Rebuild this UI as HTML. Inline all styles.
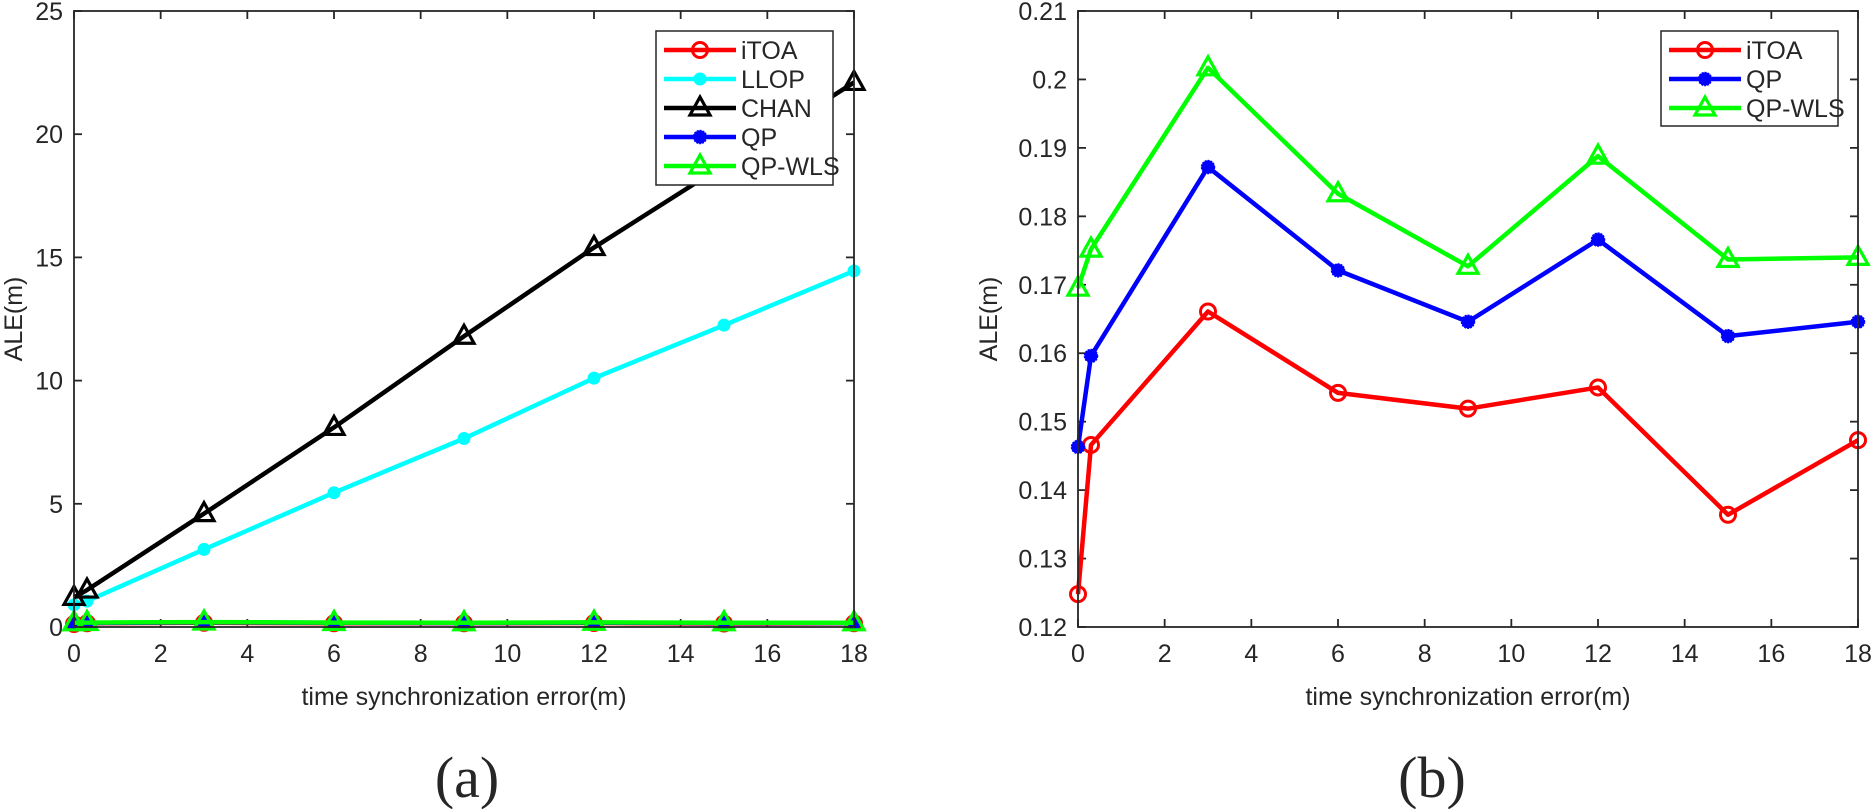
<!DOCTYPE html>
<html><head><meta charset="utf-8"><style>
html,body{margin:0;padding:0;background:#fff}
svg{display:block}
text{font-family:"Liberation Sans",Arial,sans-serif;fill:#262626}
</style></head><body>
<svg id="s" width="1871" height="809" xmlns="http://www.w3.org/2000/svg"></svg>
<script>
const S=document.getElementById('s');let h='';
function plot(L,R,T,B,ymin,ymax,yt,yfmt,series,legend,ylx){
  const X=v=>L+(v/18)*(R-L), Y=v=>B-(v-ymin)/(ymax-ymin)*(B-T);
  for(let x=0;x<=18;x+=2){const px=X(x);
    h+=`<line x1="${px}" y1="${B}" x2="${px}" y2="${B-8}" stroke="#262626" stroke-width="1.8"/><line x1="${px}" y1="${T}" x2="${px}" y2="${T+8}" stroke="#262626" stroke-width="1.8"/>`;
    h+=`<text x="${px}" y="${B+35}" font-size="25" text-anchor="middle">${x}</text>`;}
  yt.forEach(v=>{const py=Y(v);
    h+=`<line x1="${L}" y1="${py}" x2="${L+8}" y2="${py}" stroke="#262626" stroke-width="1.8"/><line x1="${R}" y1="${py}" x2="${R-8}" y2="${py}" stroke="#262626" stroke-width="1.8"/>`;
    h+=`<text x="${L-11}" y="${py+9}" font-size="25" text-anchor="end">${yfmt(v)}</text>`;});
  h+=`<text x="${(L+R)/2}" y="${B+78}" font-size="25" text-anchor="middle">time synchronization error(m)</text>`;
  h+=`<text transform="translate(${ylx},${(T+B)/2}) rotate(-90)" font-size="25" text-anchor="middle">ALE(m)</text>`;
  const xs=[0,0.3,3,6,9,12,15,18];
  series.forEach(s=>{
    h+=`<polyline fill="none" stroke="${s.c}" stroke-width="4.5" stroke-linejoin="round" points="${s.d.map((v,i)=>X(xs[i])+','+Y(v)).join(' ')}"/>`;
    s.d.forEach((v,i)=>{h+=mk(s.m,s.c,X(xs[i]),Y(v));});
  });
  h+=`<rect x="${L}" y="${T}" width="${R-L}" height="${B-T}" fill="none" stroke="#262626" stroke-width="1.8"/>`;
  const lg=legend;
  h+=`<rect x="${lg.x}" y="${lg.y}" width="${lg.w}" height="${lg.h}" fill="#fff" stroke="#262626" stroke-width="1.5"/>`;
  lg.items.forEach((s,i)=>{const cy=lg.y+19+i*29;
    h+=`<line x1="${lg.x+8}" y1="${cy}" x2="${lg.x+80}" y2="${cy}" stroke="${s.c}" stroke-width="4.5"/>`+mk(s.m,s.c,lg.x+44,cy);
    h+=`<text x="${lg.x+85}" y="${cy+9}" font-size="25" fill="#000">${s.n}</text>`;});
}
function mk(m,c,x,y){
  if(m=='o')return `<circle cx="${x}" cy="${y}" r="7.5" fill="none" stroke="${c}" stroke-width="3"/>`;
  if(m=='.')return `<circle cx="${x}" cy="${y}" r="6.5" fill="${c}"/>`;
  if(m=='*')return `<circle cx="${x}" cy="${y}" r="6.5" fill="${c}" stroke="${c}" stroke-width="1.5" stroke-dasharray="2 1"/>`;
  if(m=='^')return `<polygon points="${x},${y-11} ${x-10},${y+7} ${x+10},${y+7}" fill="none" stroke="${c}" stroke-width="3.2"/>`;
}
const iT={n:'iTOA',c:'#ff0000',m:'o'},LL={n:'LLOP',c:'#00ffff',m:'.'},CH={n:'CHAN',c:'#000000',m:'^'},QP={n:'QP',c:'#0000ff',m:'*'},QW={n:'QP-WLS',c:'#00ff00',m:'^'};
plot(74,854,11,627,0,25,[0,5,10,15,20,25],v=>v,[
 Object.assign({},LL,{d:[0.9,1.05,3.15,5.45,7.65,10.1,12.25,14.45]}),
 Object.assign({},CH,{d:[1.2,1.5,4.6,8.1,11.8,15.4,18.75,22.1]}),
 Object.assign({},iT,{d:[0.12,0.15,0.17,0.15,0.15,0.16,0.14,0.15]}),
 Object.assign({},QP,{d:[0.15,0.16,0.19,0.17,0.16,0.18,0.16,0.16]}),
 Object.assign({},QW,{d:[0.17,0.18,0.2,0.18,0.17,0.19,0.17,0.17]})
],{x:656,y:31,w:177,h:154,items:[iT,LL,CH,QP,QW]},22);
plot(1078,1858,11,627,0.12,0.21,[0.12,0.13,0.14,0.15,0.16,0.17,0.18,0.19,0.2,0.21],v=>String(+v.toFixed(2)),[
 Object.assign({},iT,{d:[.1248,.1466,.1661,.1542,.1519,.155,.1364,.1473]}),
 Object.assign({},QP,{d:[.1463,.1596,.1872,.1721,.1646,.1766,.1625,.1646]}),
 Object.assign({},QW,{d:[.1695,.1752,.2017,.1833,.1727,.1888,.1737,.1740]})
],{x:1661,y:31,w:177,h:95,items:[iT,QP,QW]},997);
h+=`<text x="467" y="797" font-size="58" text-anchor="middle" style="font-family:'Liberation Serif',serif" fill="#000">(a)</text>`;
h+=`<text x="1432" y="797" font-size="58" text-anchor="middle" style="font-family:'Liberation Serif',serif" fill="#000">(b)</text>`;
S.innerHTML=h;
</script>
</body></html>
